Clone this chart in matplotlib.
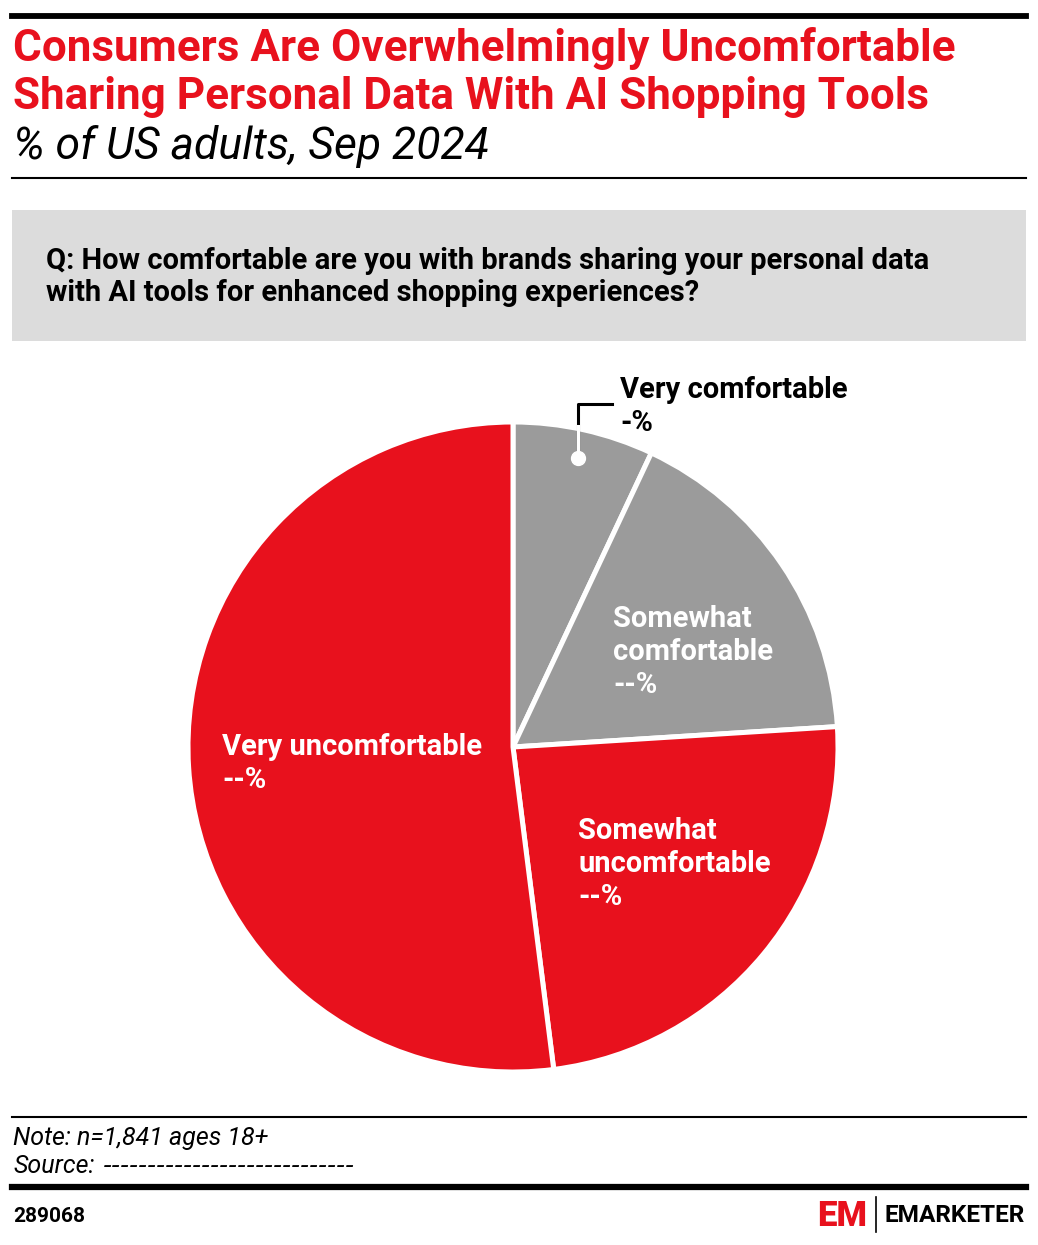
import numpy as np
import matplotlib.pyplot as plt
from matplotlib.lines import Line2D
from matplotlib.patches import Rectangle

# ------------------------------------------------
# Data
# ------------------------------------------------

labels = ["Very comfortable", "Somewhat comfortable",
          "Somewhat uncomfortable", "Very uncomfortable"]
shares = [7, 17, 24, 52]
value_text = ["-%", "--%", "--%", "--%"]

RED = "#E8111D"
GRAY = "#9B9B9B"
colors = [GRAY, GRAY, RED, RED]

W, H = 1038, 1245
fig = plt.figure(figsize=(W / 100, H / 100), dpi=100)
plt.rcParams['font.family'] = ['Roboto', 'DejaVu Sans']


def fx(x):
    return x / W


def fy(y):
    return 1 - y / H


def hline(y, x0, x1, lw, color="black"):
    fig.add_artist(Line2D([fx(x0), fx(x1)], [fy(y), fy(y)],
                          lw=lw, color=color, transform=fig.transFigure))


# ------------------------------------------------
# Header
# ------------------------------------------------

hline(16, 12, 1026, 4.2)
fig.text(fx(13), fy(49), "Consumers Are Overwhelmingly Uncomfortable",
         color=RED, fontsize=31.7, fontweight='bold', va='center', ha='left')
fig.text(fx(13), fy(97), "Sharing Personal Data With AI Shopping Tools",
         color=RED, fontsize=31.7, fontweight='bold', va='center', ha='left')
fig.text(fx(13), fy(147), "% of US adults, Sep 2024",
         color="black", fontsize=32, fontstyle='italic', va='center', ha='left')
hline(178, 12, 1026, 1.5)

# question box
fig.add_artist(Rectangle((fx(12), fy(341)), fx(1026) - fx(12), fy(210) - fy(341),
                         facecolor="#DCDCDC", edgecolor='none',
                         transform=fig.transFigure))
fig.text(fx(46), fy(261), "Q: How comfortable are you with brands sharing your personal data",
         fontsize=21, fontweight='bold', va='center', ha='left')
fig.text(fx(46), fy(293), "with AI tools for enhanced shopping experiences?",
         fontsize=21, fontweight='bold', va='center', ha='left')

# ------------------------------------------------
# Pie
# ------------------------------------------------

cx, cy, r = 513, 747, 325
ax = fig.add_axes([fx(cx - r), fy(cy + r), 2 * r / W, 2 * r / H])
ax.pie(shares, colors=colors, startangle=90, counterclock=False,
       wedgeprops=dict(edgecolor='white', linewidth=3.6))
ax.set_xlim(-1, 1)
ax.set_ylim(-1, 1)
ax.set_aspect('auto')
ax.axis('off')

# inside labels
inside = [
    (613, 617, "Somewhat\ncomfortable\n" + value_text[1]),
    (578, 829, "Somewhat\nuncomfortable\n" + value_text[2]),
    (222, 745, "Very uncomfortable\n" + value_text[3]),
]
for x, y, s in inside:
    fig.text(fx(x), fy(y - 12), s, color='white', fontsize=21, fontweight='bold',
             ha='left', va='top', linespacing=1.22)

# callout for very comfortable
fig.add_artist(Line2D([fx(578), fx(578), fx(612)], [fy(458), fy(404), fy(404)],
                      lw=2.2, color='black', transform=fig.transFigure))
fig.add_artist(Line2D([fx(578), fx(578)], [fy(458), fy(426)],
                      lw=2.2, color='white', transform=fig.transFigure))
fig.add_artist(Line2D([fx(578)], [fy(458)], marker='o', markersize=10,
                      color='white', transform=fig.transFigure))
fig.text(fx(620), fy(376), labels[0] + "\n" + value_text[0], color='black',
         fontsize=21, fontweight='bold', ha='left', va='top', linespacing=1.22)

# ------------------------------------------------
# Footer
# ------------------------------------------------

hline(1117, 12, 1026, 1.5)
fig.text(fx(13), fy(1138), "Note: n=1,841 ages 18+", fontsize=18,
         fontstyle='italic', va='center', ha='left')
fig.text(fx(13), fy(1166), "Source:", fontsize=18,
         fontstyle='italic', va='center', ha='left')
fig.text(fx(103), fy(1166), "-" * 28, fontsize=18, family='DejaVu Sans',
         fontstyle='italic', va='center', ha='left')
hline(1187, 12, 1026, 4.5)
fig.text(fx(13), fy(1216), "289068", fontsize=15, fontweight='bold',
         va='center', ha='left')

# logo
fig.text(fx(817), fy(1216), "EM", color=RED, fontsize=25, fontweight='black',
         va='center', ha='left')
fig.add_artist(Line2D([fx(876), fx(876)], [fy(1197), fy(1232)],
                      lw=1.2, color='black', transform=fig.transFigure))
fig.text(fx(884), fy(1216), "EMARKETER", color='black', fontsize=17.6,
         fontweight='bold', va='center', ha='left')

fig.savefig("out.png", dpi=100)
